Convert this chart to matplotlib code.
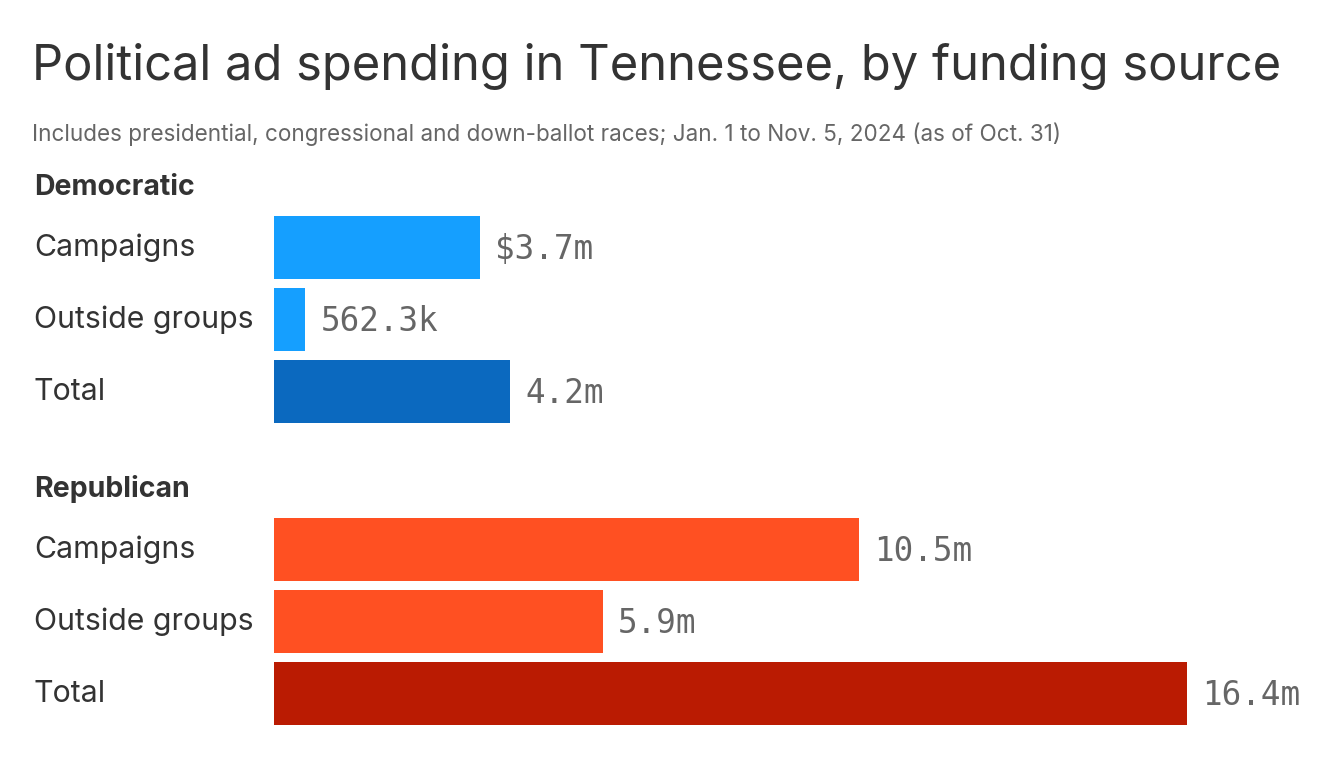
import matplotlib
matplotlib.use('Agg')
import matplotlib.pyplot as plt

# data, in millions of dollars
groups = ['Democratic', 'Republican']
rows = ['Campaigns', 'Outside groups', 'Total']
dem_values = [3.7, 0.5623, 4.24]
rep_values = [10.5, 5.9, 16.4]
dem_labels = ['$3.7m', '562.3k', '4.2m']
rep_labels = ['10.5m', '5.9m', '16.4m']
dem_colors = ['#159fff', '#159fff', '#0b69bf']
rep_colors = ['#ff5022', '#ff5022', '#ba1b02']

plt.rcParams['font.family'] = ['Inter', 'DejaVu Sans']
W, H = 1344, 784
fig = plt.figure(figsize=(W / 100, H / 100), dpi=100)

# axes in pixel terms: bars start at x=274, rows 72 px apart
ax = fig.add_axes([274 / W, (H - 740) / H, 1 - 274 / W, 540 / H])
px_per_unit = 55.7
ax.set_xlim(0, (W - 274) / px_per_unit)
ax.set_ylim(7.5 - 0.66, -0.66)
ax.axis('off')

group_gap = 302 / 72.0  # start of second group, in row units
for g, (name, vals, labs, cols) in enumerate(zip(groups,
                                                  [dem_values, rep_values],
                                                  [dem_labels, rep_labels],
                                                  [dem_colors, rep_colors])):
    base = g * group_gap
    ax.text(-240 / px_per_unit, base - 0.84, name, fontsize=20.5, fontweight='bold',
            color='#333333', va='center', ha='left')
    for i, (r, v, l, c) in enumerate(zip(rows, vals, labs, cols)):
        y = base + i
        ax.barh(y, v, height=0.875, color=c, left=0)
        ax.text(-240 / px_per_unit, y, r, fontsize=21.8, color='#333333',
                va='center', ha='left')
        ax.text(v + 15 / px_per_unit, y + 0.03, l, fontsize=23.5, color='#666666',
                family='DejaVu Sans Mono', va='center', ha='left')

fig.text(32 / W, 1 - 66 / H, 'Political ad spending in Tennessee, by funding source',
         fontsize=35.2, color='#333333', va='center', ha='left')
fig.text(32 / W, 1 - 134 / H,
         'Includes presidential, congressional and down-ballot races; Jan. 1 to Nov. 5, 2024 (as of Oct. 31)',
         fontsize=16.2, color='#666666', va='center', ha='left')

fig.savefig('out.png', dpi=100, facecolor='white')
